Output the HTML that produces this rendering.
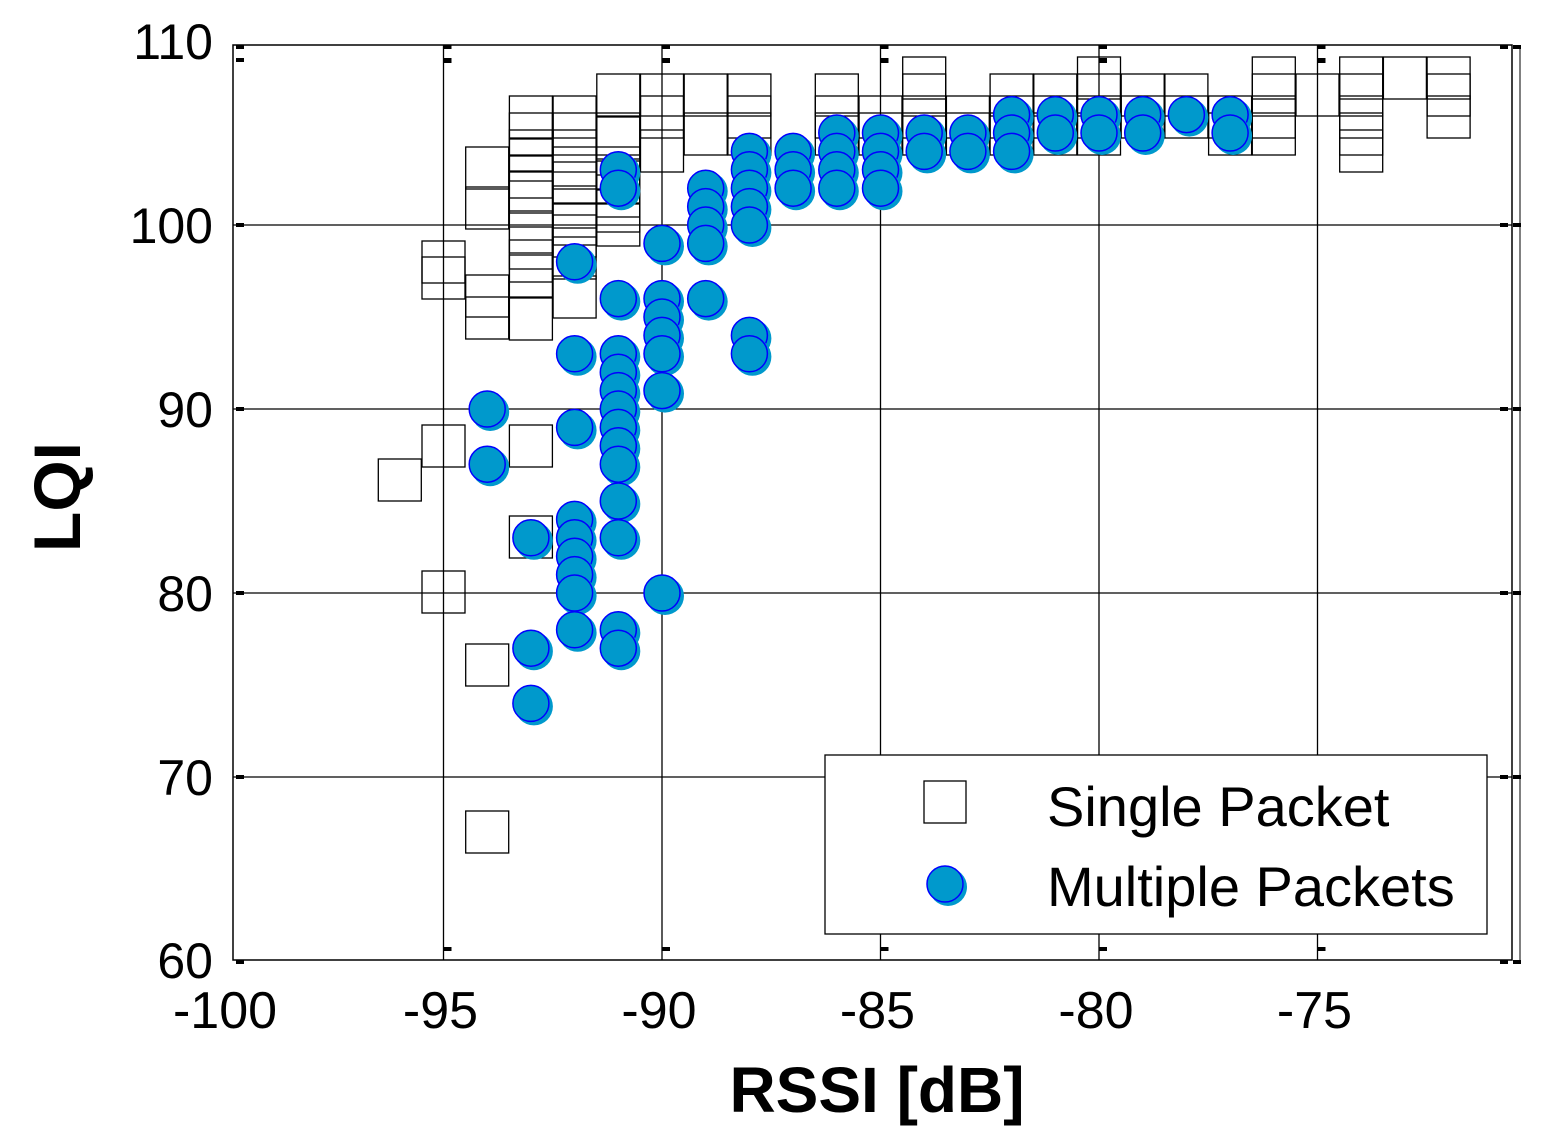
<!DOCTYPE html>
<html><head><meta charset="utf-8"><style>
html,body{margin:0;padding:0;background:#fff;}
svg{display:block;}
text{font-family:"Liberation Sans",sans-serif;fill:#000;}
</style></head><body>
<svg id="s" width="1566" height="1145" viewBox="0 0 1566 1145" xmlns="http://www.w3.org/2000/svg">
<rect x="0" y="0" width="1566" height="1145" fill="#fff"/>
<g id="grid" stroke="#000" stroke-width="1.3" fill="none"></g>
<g id="sq" stroke="#000" stroke-width="1.3" fill="none"></g>
<g id="ci"></g>
<rect x="233" y="45" width="1279" height="915" fill="none" stroke="#000" stroke-width="1.5"/>
<line x1="1520" y1="45" x2="1520" y2="960" stroke="#000" stroke-width="1"/>
<g id="ticks" fill="#000"></g>
<g id="labels" font-size="50"></g>
<text x="877" y="1112" font-size="64" font-weight="bold" text-anchor="middle">RSSI [dB]</text>
<text transform="translate(80,497) rotate(-90)" font-size="66" font-weight="bold" text-anchor="middle">LQI</text>
<rect x="825" y="755" width="662" height="179" fill="#fff" stroke="#000" stroke-width="1.3"/>
<rect x="924" y="781" width="42" height="42" fill="none" stroke="#000" stroke-width="1.3"/>
<circle cx="948" cy="887" r="19" fill="#0099cc"/>
<circle cx="945" cy="884" r="18" fill="#0099cc" stroke="#0000ff" stroke-width="1.5"/>
<text x="1047" y="826" font-size="56">Single Packet</text>
<text x="1047" y="906" font-size="56">Multiple Packets</text>
</svg>
<script>
var NS="http://www.w3.org/2000/svg";
function el(p,t,a,txt){var e=document.createElementNS(NS,t);for(var k in a)e.setAttribute(k,a[k]);if(txt!=null)e.textContent=txt;document.getElementById(p).appendChild(e);return e;}
function X(r){return 662+(r+90)*43.7;}
function Y(l){return 225+(100-l)*18.4;}
[-95,-90,-85,-80,-75].forEach(function(r){el('grid','line',{x1:X(r),y1:45,x2:X(r),y2:960});});
[100,90,80,70].forEach(function(l){el('grid','line',{x1:233,y1:Y(l),x2:1512,y2:Y(l)});});
[-95,-90,-85,-80,-75].forEach(function(r){var x=X(r);
 el('ticks','rect',{x:x,y:45,width:8,height:4});el('ticks','rect',{x:x,y:58,width:8,height:5});
 el('ticks','rect',{x:x,y:947,width:8,height:4});});
[100,90,80,70].forEach(function(l){var y=Y(l);
 el('ticks','rect',{x:236,y:y-2,width:8,height:4});el('ticks','rect',{x:1500,y:y-2,width:8,height:4});el('ticks','rect',{x:1513,y:y-2,width:8,height:4});});
el('ticks','rect',{x:236,y:45,width:8,height:4});el('ticks','rect',{x:236,y:58,width:8,height:4});
el('ticks','rect',{x:1513,y:45,width:8,height:4});el('ticks','rect',{x:1500,y:45,width:8,height:4});
el('ticks','rect',{x:236,y:960,width:8,height:4});el('ticks','rect',{x:1500,y:960,width:8,height:4});el('ticks','rect',{x:1513,y:960,width:8,height:4});
[110,100,90,80,70].forEach(function(l){el('labels','text',{x:213,y:Y(l)+18,'text-anchor':'end'},String(l));});
el('labels','text',{x:213,y:978,'text-anchor':'end'},'60');
[-100,-95,-90,-85,-80,-75].forEach(function(r){el('labels','text',{x:X(r)+(r==-100?0:-3),y:1028,'text-anchor':'middle','font-size':'52'},String(r));});
var S=[[-96,[459]],[-95,[241,257,425,571]],[-94,[147,187,275,297,644,811]],
[-93,[96,113,130,139,156,171,211,227,240,255,298,425,516]],
[-92,[96,113,130,147,162,186,203,215,237,276]],
[-91,[74,113,117,147,161,175,190,204]],[-90,[74,96,130]],[-89,[74,113]],[-88,[74,96,113]],
[-86,[74,96,113]],[-85,[96,113]],[-84,[57,74,96,113]],[-83,[96,113]],[-82,[74,96,113]],[-81,[74,96,113]],
[-80,[57,74,96,113]],[-79,[74,96]],[-78,[74,96]],[-77,[96,113]],[-76,[57,74,96,113]],[-75,[74]],
[-74,[57,74,96,113,130]],[-73,[57]],[-72,[57,74,96]]];
S.forEach(function(c){c[1].forEach(function(t){el('sq','rect',{x:X(c[0])-21.5,y:t,width:43,height:42});});});
var C=[[-94,[90,87]],[-93,[83,77,74]],[-92,[98,93,89,84,83,82,81,80,78]],
[-91,[103,102,96,93,92,91,90,89,88,87,85,83,78,77]],[-90,[99,96,95,94,93,91,80]],
[-89,[102,101,100,99,96]],[-88,[104,103,102,101,100,94,93]],[-87,[104,103,102]],
[-86,[105,104,103,102]],[-85,[105,104,103,102]],[-84,[105,104]],[-83,[105,104]],[-82,[106,105,104]],
[-81,[106,105]],[-80,[106,105]],[-79,[106,105]],[-78,[106]],[-77,[106,105]]];
C.forEach(function(c){c[1].forEach(function(l){var x=X(c[0]),y=Y(l);
 el('ci','circle',{cx:x+3,cy:y+3,r:19,fill:'#0099cc'});
 el('ci','circle',{cx:x,cy:y,r:18,fill:'#0099cc',stroke:'#0000ff','stroke-width':1.5});});});
</script>
</body></html>
